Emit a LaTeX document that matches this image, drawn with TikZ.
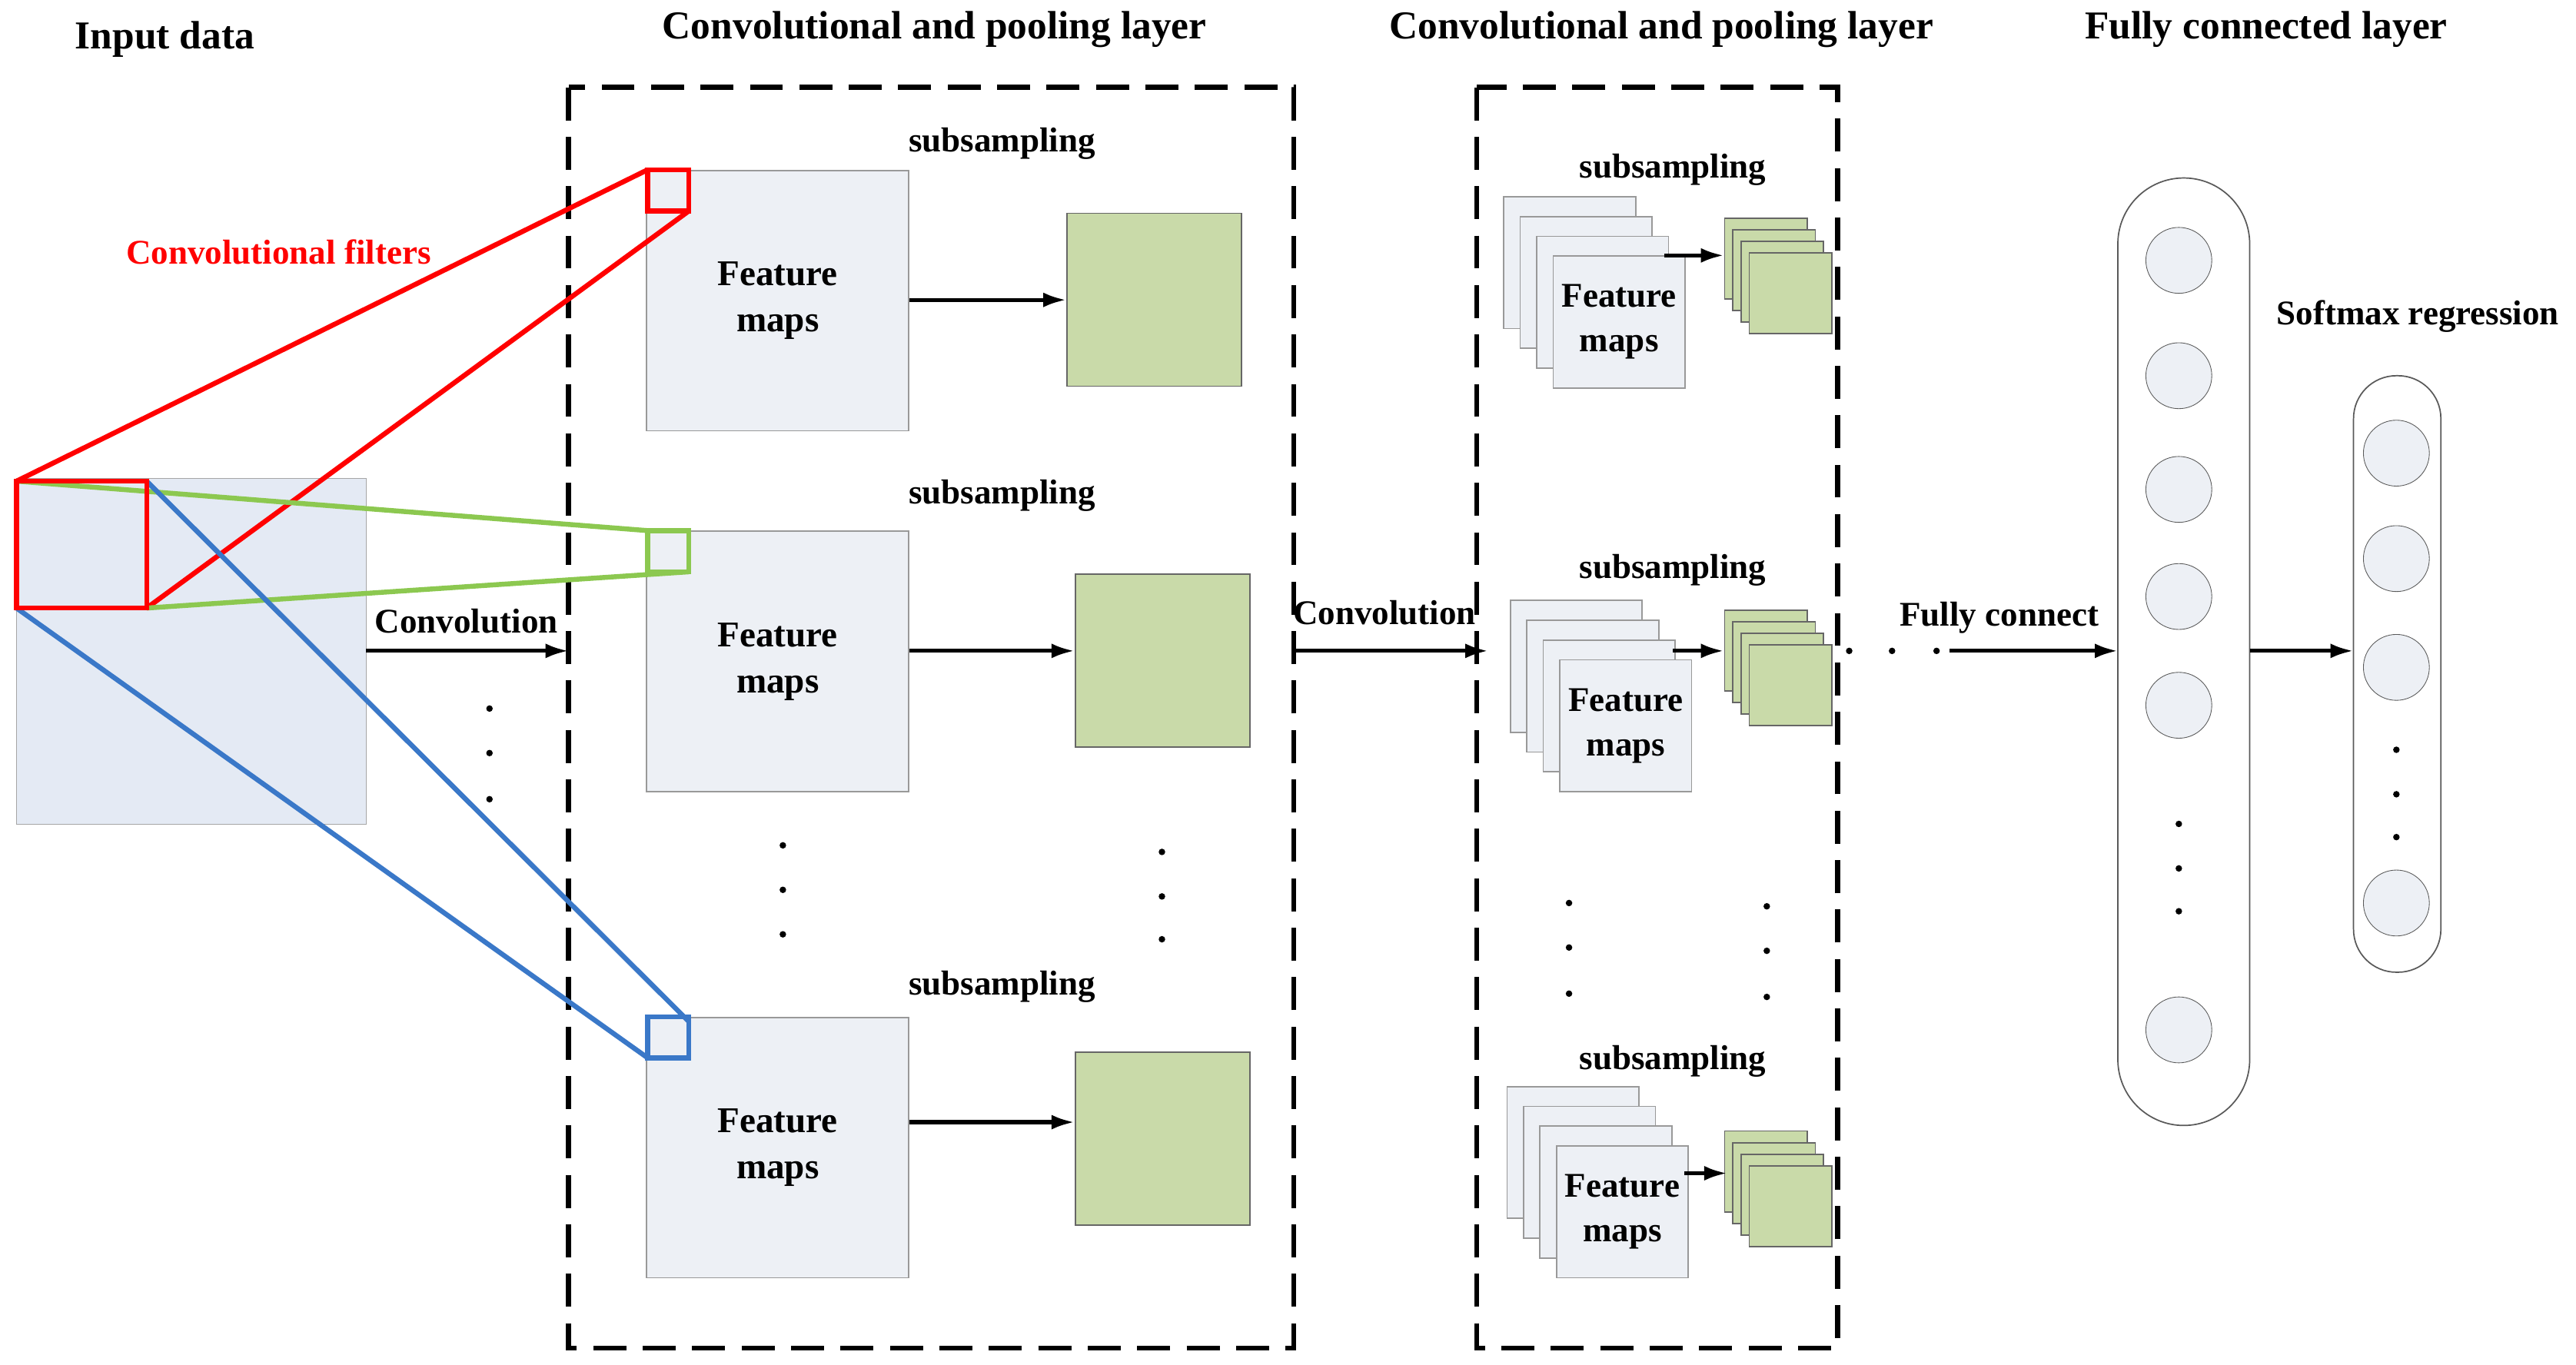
\documentclass[tikz,border=0pt]{standalone}
\usepackage{fontspec}
\setmainfont{Liberation Serif}
\begin{document}
\begin{tikzpicture}[x=1pt,y=-1pt,
 ttl/.style={font=\fontsize{24}{28}\selectfont\bfseries},
 lbl/.style={font=\fontsize{21}{24}\selectfont\bfseries},
 fm/.style={draw=gray!80,fill=fmc,line width=0.8pt},
 gs/.style={draw=gray!80!black,fill=grc,line width=0.8pt},
 dbox/.style={draw,line width=3pt,dash pattern=on 20pt off 10pt},
 arr/.style={-{Latex[length=14pt,width=9pt]},line width=2.4pt},
 dot/.style={circle,fill,inner sep=1.4pt},
 neu/.style={circle,draw=gray!70!black,fill=fmc,minimum size=40pt,inner sep=0pt}]
\usetikzlibrary{arrows.meta}
\definecolor{fmc}{HTML}{EDF0F5}
\definecolor{inc}{HTML}{E4EAF4}
\definecolor{grc}{HTML}{C9DAA9}
\definecolor{gl}{HTML}{8CC850}
\definecolor{bl}{HTML}{3A78C8}
\useasboundingbox (0,0) rectangle (1563,828);
\node[ttl] (t1) at (100,24) {Input data};
\node[ttl] (t2) at (567,18) {Convolutional and pooling layer};
\node[ttl] (t3) at (1008,18) {Convolutional and pooling layer};
\node[ttl] (t4) at (1375,18) {Fully connected layer};
\draw[dbox] (345,53) rectangle (785,818);
\draw[dbox] (896,53) rectangle (1115,818);
% input
\node[draw=gray!70,fill=inc,minimum width=212pt,minimum height=210pt,inner sep=0pt,anchor=north west] (in) at (10,290) {};
% feature maps layer 1
\foreach \n/\y/\gx/\gy/\sy/\ay in {a/103/647/129/87/182,b/322/652/348/301/395,c/617/652/638/599/681}{
 \node[fm,minimum width=159pt,minimum height=158pt,anchor=north west,inner sep=0pt,align=center,font=\fontsize{22}{28}\selectfont\bfseries] (f\n) at (392,\y) {Feature\\maps};
 \node[gs,minimum width=106pt,minimum height=105pt,anchor=north west,inner sep=0pt] (g\n) at (\gx,\gy) {};
 \node[lbl] (s\n) at (608,\sy) {subsampling};
 \draw[arr] (f\n.east |- 0,\ay) -- (g\n.west |- 0,\ay);
}
% filters
\draw[red,line width=3pt] (10,292) -- (393,103) (89,369) -- (418,128);
\draw[red,line width=3pt] (393,103) rectangle (418,128);
\draw[gl,line width=3pt] (10,292) -- (393,322) (89,369) -- (418,347);
\draw[gl,line width=3pt] (393,322) rectangle (418,347);
\draw[bl,line width=3pt] (89,292) -- (418,620) (10,369) -- (393,642);
\draw[bl,line width=3pt] (393,617) rectangle (418,642);
\draw[red,line width=3pt] (10,292) rectangle (89,369);
\node[font=\fontsize{21}{24}\selectfont\bfseries,text=red] (cf) at (169,153) {Convolutional filters};
% convolution 1
\coordinate (c1) at (345,395);
\draw[arr] (222,395) -- (c1);
\node[lbl] (cl1) at (283,377) {Convolution};
\foreach \y in {430,457,485} \node[dot] at (297,\y) {};
\foreach \y in {513,540,567} \node[dot] at (475,\y) {};
\foreach \y in {517,544,570} \node[dot] at (705,\y) {};
% layer 2 stacks
\foreach \n/\x/\y/\gy/\sy in {a/912/119/132/103,b/916/364/370/346,c/914/659/686/644}{
 \foreach \k in {0,1,2} \node[fm,minimum width=80pt,minimum height=80pt,anchor=north west,inner sep=0pt] at (\x+10*\k,\y+12*\k) {};
 \node[fm,minimum width=80pt,minimum height=80pt,anchor=north west,inner sep=0pt,align=center,font=\fontsize{21}{27}\selectfont\bfseries] (h\n) at (\x+30,\y+36) {Feature\\maps};
 \foreach \k in {0,1,2} \node[gs,minimum width=50pt,minimum height=49pt,anchor=north west,inner sep=0pt] at (1046+5*\k,\gy+7*\k) {};
 \node[gs,minimum width=50pt,minimum height=49pt,anchor=north west,inner sep=0pt] (k\n) at (1061,\gy+21) {};
 \node[lbl] (u\n) at (1015,\sy) {subsampling};
}
\draw[arr] (1010,155) -- (1046,155);
\draw[arr] (1015,395) -- (1046,395);
\draw[arr] (1022,712) -- (1048,712);
\foreach \y in {548,575,603} \node[dot] at (952,\y) {};
\foreach \y in {550,577,605} \node[dot] at (1072,\y) {};
\coordinate (c2s) at (785,395); \coordinate (c2e) at (903,395);
\draw[arr] (c2s) -- (c2e);
\node[lbl] (cl2) at (840,372) {Convolution};
\foreach \x in {1122,1148,1175} \node[dot] at (\x,395) {};
% fully connected
\draw[gray!70!black,line width=0.8pt,fill=white,rounded corners=40pt] (1285,108) rectangle (1365,683);
\coordinate (fcw) at (1285,395);
\draw[arr] (1183,395) -- (fcw);
\node[lbl] (fcl) at (1213,375) {Fully connect};
\foreach \y in {158,228,297,362,428,625} \node[neu] at (1322,\y) {};
\foreach \y in {500,527,553} \node[dot] at (1322,\y) {};
\draw[gray!70!black,line width=0.8pt,fill=white,rounded corners=26pt] (1428,228) rectangle (1481,590);
\coordinate (sw) at (1428,395); \coordinate (fce) at (1365,395);
\draw[arr] (fce) -- (sw);
\foreach \y in {275,339,405,548} \node[neu] at (1454,\y) {};
\foreach \y in {455,482,508} \node[dot] at (1454,\y) {};
\node[lbl] (sm) at (1467,192) {Softmax regression};
\end{tikzpicture}
\end{document}
